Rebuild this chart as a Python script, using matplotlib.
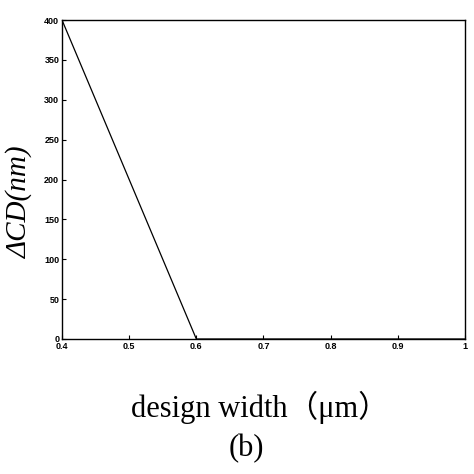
import matplotlib
matplotlib.use("Agg")
import matplotlib.pyplot as plt

design_width = [0.4, 0.6, 0.7, 0.8, 0.9, 1.0]
delta_cd = [400, 0, 0, 0, 0, 0]
xticks = [0.4, 0.5, 0.6, 0.7, 0.8, 0.9, 1.0]
xticklabels = ["0.4", "0.5", "0.6", "0.7", "0.8", "0.9", "1"]
yticks = [0, 50, 100, 150, 200, 250, 300, 350, 400]

fig = plt.figure(figsize=(4.74, 4.74), dpi=100)
ax = fig.add_axes([62/474, 1-339/474, (465-62)/474, (339-20)/474])
ax.plot(design_width, delta_cd, color="black", lw=0.9)
ax.set_xlim(0.4, 1.0)
ax.set_ylim(0, 400)
ax.set_xticks(xticks)
ax.set_xticklabels(xticklabels)
ax.set_yticks(yticks)
ax.tick_params(direction="in", length=3, width=0.8, labelsize=6.5, pad=2,
               top=False, right=False)
for lbl in ax.get_xticklabels() + ax.get_yticklabels():
    lbl.set_fontweight("bold")
    lbl.set_family("Liberation Sans")
for s in ax.spines.values():
    s.set_linewidth(1.0)

fig.text(260/474, 1-407/474, "design width（μm）", ha="center", va="center",
         fontsize=22, family=["Liberation Serif", "Noto Sans CJK SC"])
fig.text(246/474, 1-449/474, "(b)", ha="center", va="center",
         fontsize=22, family="Liberation Serif")
fig.text(20/474, 1-202/474, "ΔCD(nm)", ha="center", va="center", rotation=90,
         fontsize=21, family="Liberation Serif", style="italic")

fig.savefig("out.png", dpi=100)
